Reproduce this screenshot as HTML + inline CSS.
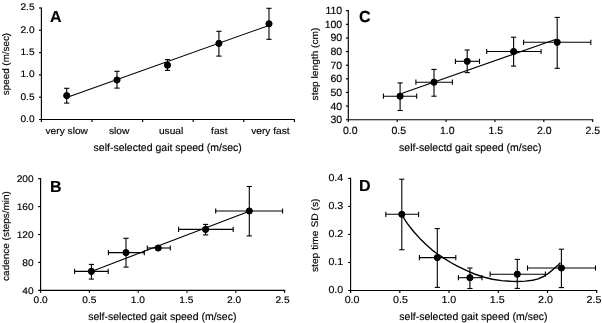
<!DOCTYPE html>
<html><head><meta charset="utf-8"><title>Figure</title>
<style>html,body{margin:0;padding:0;background:#fff;}svg{display:block}
text{font-family:"Liberation Sans", Arial, Helvetica, sans-serif;fill:#000;stroke:#000;stroke-width:0.15px;text-rendering:geometricPrecision;}</style></head>
<body><svg width="602" height="323" viewBox="0 0 602 323" stroke="#000" fill="#000">
<rect x="0" y="0" width="602" height="323" fill="#fff" stroke="none"/>
<g stroke-linecap="butt">
<line x1="41.40" y1="7.42" x2="41.40" y2="121.90" stroke-width="1.15"/>
<line x1="39.00" y1="119.50" x2="294.97" y2="119.50" stroke-width="1.15"/>
<line x1="39.00" y1="97.20" x2="41.40" y2="97.20" stroke-width="1.15"/>
<line x1="39.00" y1="74.90" x2="41.40" y2="74.90" stroke-width="1.15"/>
<line x1="39.00" y1="52.60" x2="41.40" y2="52.60" stroke-width="1.15"/>
<line x1="39.00" y1="30.30" x2="41.40" y2="30.30" stroke-width="1.15"/>
<line x1="39.00" y1="8.00" x2="41.40" y2="8.00" stroke-width="1.15"/>
<line x1="92.00" y1="119.50" x2="92.00" y2="121.90" stroke-width="1.15"/>
<line x1="142.60" y1="119.50" x2="142.60" y2="121.90" stroke-width="1.15"/>
<line x1="193.20" y1="119.50" x2="193.20" y2="121.90" stroke-width="1.15"/>
<line x1="243.80" y1="119.50" x2="243.80" y2="121.90" stroke-width="1.15"/>
<line x1="294.40" y1="119.50" x2="294.40" y2="121.90" stroke-width="1.15"/>
<text transform="translate(34.60 121.80) scale(1.07 1)" text-anchor="end" font-size="9.5">0.0</text>
<text transform="translate(34.60 99.50) scale(1.07 1)" text-anchor="end" font-size="9.5">0.5</text>
<text transform="translate(34.60 77.20) scale(1.07 1)" text-anchor="end" font-size="9.5">1.0</text>
<text transform="translate(34.60 54.90) scale(1.07 1)" text-anchor="end" font-size="9.5">1.5</text>
<text transform="translate(34.60 32.60) scale(1.07 1)" text-anchor="end" font-size="9.5">2.0</text>
<text transform="translate(34.60 10.30) scale(1.07 1)" text-anchor="end" font-size="9.5">2.5</text>
<text transform="translate(66.70 133.50) scale(1.07 1)" text-anchor="middle" font-size="9.5">very slow</text>
<text transform="translate(119.10 133.50) scale(1.07 1)" text-anchor="middle" font-size="9.5">slow</text>
<text transform="translate(171.10 133.50) scale(1.07 1)" text-anchor="middle" font-size="9.5">usual</text>
<text transform="translate(219.30 133.50) scale(1.07 1)" text-anchor="middle" font-size="9.5">fast</text>
<text transform="translate(270.40 133.50) scale(1.07 1)" text-anchor="middle" font-size="9.5">very fast</text>
<text transform="translate(167.70 150.60)" text-anchor="middle" font-size="10.5">self-selected gait speed (m/sec)</text>
<text transform="translate(9.20 64.00) rotate(-90) scale(1.035 1)" text-anchor="middle" font-size="9.5">speed (m/sec)</text>
<text transform="translate(50.00 22.00)" text-anchor="start" font-size="16" font-weight="bold">A</text>
<line x1="66.70" y1="97.60" x2="269.00" y2="25.40" stroke-width="1.1"/>
<line x1="66.70" y1="88.30" x2="66.70" y2="103.10" stroke-width="1.1"/>
<line x1="64.10" y1="88.30" x2="69.30" y2="88.30" stroke-width="1.1"/>
<line x1="64.10" y1="103.10" x2="69.30" y2="103.10" stroke-width="1.1"/>
<circle cx="66.70" cy="95.60" r="3.1"/>
<line x1="117.00" y1="71.30" x2="117.00" y2="88.10" stroke-width="1.1"/>
<line x1="114.40" y1="71.30" x2="119.60" y2="71.30" stroke-width="1.1"/>
<line x1="114.40" y1="88.10" x2="119.60" y2="88.10" stroke-width="1.1"/>
<circle cx="117.00" cy="80.00" r="3.1"/>
<line x1="167.50" y1="59.60" x2="167.50" y2="70.40" stroke-width="1.1"/>
<line x1="164.90" y1="59.60" x2="170.10" y2="59.60" stroke-width="1.1"/>
<line x1="164.90" y1="70.40" x2="170.10" y2="70.40" stroke-width="1.1"/>
<circle cx="167.50" cy="65.20" r="3.1"/>
<line x1="218.90" y1="31.30" x2="218.90" y2="56.10" stroke-width="1.1"/>
<line x1="216.30" y1="31.30" x2="221.50" y2="31.30" stroke-width="1.1"/>
<line x1="216.30" y1="56.10" x2="221.50" y2="56.10" stroke-width="1.1"/>
<circle cx="218.90" cy="43.40" r="3.1"/>
<line x1="269.00" y1="8.30" x2="269.00" y2="39.30" stroke-width="1.1"/>
<line x1="266.40" y1="8.30" x2="271.60" y2="8.30" stroke-width="1.1"/>
<line x1="266.40" y1="39.30" x2="271.60" y2="39.30" stroke-width="1.1"/>
<circle cx="269.00" cy="23.80" r="3.1"/>
<line x1="40.60" y1="178.12" x2="40.60" y2="292.70" stroke-width="1.15"/>
<line x1="38.20" y1="290.30" x2="285.18" y2="290.30" stroke-width="1.15"/>
<line x1="38.20" y1="262.40" x2="40.60" y2="262.40" stroke-width="1.15"/>
<line x1="38.20" y1="234.50" x2="40.60" y2="234.50" stroke-width="1.15"/>
<line x1="38.20" y1="206.60" x2="40.60" y2="206.60" stroke-width="1.15"/>
<line x1="38.20" y1="178.70" x2="40.60" y2="178.70" stroke-width="1.15"/>
<line x1="89.40" y1="290.30" x2="89.40" y2="292.70" stroke-width="1.15"/>
<line x1="138.20" y1="290.30" x2="138.20" y2="292.70" stroke-width="1.15"/>
<line x1="187.00" y1="290.30" x2="187.00" y2="292.70" stroke-width="1.15"/>
<line x1="235.80" y1="290.30" x2="235.80" y2="292.70" stroke-width="1.15"/>
<line x1="284.60" y1="290.30" x2="284.60" y2="292.70" stroke-width="1.15"/>
<text transform="translate(33.60 293.50) scale(1.07 1)" text-anchor="end" font-size="9.5">40</text>
<text transform="translate(33.60 265.60) scale(1.07 1)" text-anchor="end" font-size="9.5">80</text>
<text transform="translate(33.60 237.70) scale(1.07 1)" text-anchor="end" font-size="9.5">120</text>
<text transform="translate(33.60 209.80) scale(1.07 1)" text-anchor="end" font-size="9.5">160</text>
<text transform="translate(33.60 181.90) scale(1.07 1)" text-anchor="end" font-size="9.5">200</text>
<text transform="translate(40.60 303.30) scale(1.07 1)" text-anchor="middle" font-size="9.5">0.0</text>
<text transform="translate(89.40 303.30) scale(1.07 1)" text-anchor="middle" font-size="9.5">0.5</text>
<text transform="translate(137.80 303.30) scale(1.07 1)" text-anchor="middle" font-size="9.5">1.0</text>
<text transform="translate(186.30 303.30) scale(1.07 1)" text-anchor="middle" font-size="9.5">1.5</text>
<text transform="translate(234.10 303.30) scale(1.07 1)" text-anchor="middle" font-size="9.5">2.0</text>
<text transform="translate(282.50 303.30) scale(1.07 1)" text-anchor="middle" font-size="9.5">2.5</text>
<text transform="translate(162.30 320.30)" text-anchor="middle" font-size="10.5">self-selected gait speed (m/sec)</text>
<text transform="translate(9.00 236.00) rotate(-90) scale(1.05 1)" text-anchor="middle" font-size="9.5">cadence (steps/min)</text>
<text transform="translate(50.00 191.80)" text-anchor="start" font-size="16" font-weight="bold">B</text>
<line x1="91.40" y1="271.40" x2="249.30" y2="211.20" stroke-width="1.1"/>
<line x1="91.40" y1="264.40" x2="91.40" y2="279.10" stroke-width="1.1"/>
<line x1="88.80" y1="264.40" x2="94.00" y2="264.40" stroke-width="1.1"/>
<line x1="88.80" y1="279.10" x2="94.00" y2="279.10" stroke-width="1.1"/>
<line x1="74.60" y1="271.40" x2="108.20" y2="271.40" stroke-width="1.1"/>
<line x1="74.60" y1="268.80" x2="74.60" y2="274.00" stroke-width="1.1"/>
<line x1="108.20" y1="268.80" x2="108.20" y2="274.00" stroke-width="1.1"/>
<circle cx="91.40" cy="271.40" r="3.1"/>
<line x1="126.00" y1="238.30" x2="126.00" y2="267.10" stroke-width="1.1"/>
<line x1="123.40" y1="238.30" x2="128.60" y2="238.30" stroke-width="1.1"/>
<line x1="123.40" y1="267.10" x2="128.60" y2="267.10" stroke-width="1.1"/>
<line x1="108.40" y1="252.60" x2="144.30" y2="252.60" stroke-width="1.1"/>
<line x1="108.40" y1="250.00" x2="108.40" y2="255.20" stroke-width="1.1"/>
<line x1="144.30" y1="250.00" x2="144.30" y2="255.20" stroke-width="1.1"/>
<circle cx="126.00" cy="252.60" r="3.1"/>
<line x1="158.20" y1="246.50" x2="158.20" y2="249.50" stroke-width="1.1"/>
<line x1="155.60" y1="246.50" x2="160.80" y2="246.50" stroke-width="1.1"/>
<line x1="155.60" y1="249.50" x2="160.80" y2="249.50" stroke-width="1.1"/>
<line x1="147.30" y1="248.00" x2="170.30" y2="248.00" stroke-width="1.1"/>
<line x1="147.30" y1="245.40" x2="147.30" y2="250.60" stroke-width="1.1"/>
<line x1="170.30" y1="245.40" x2="170.30" y2="250.60" stroke-width="1.1"/>
<circle cx="158.20" cy="248.00" r="3.1"/>
<line x1="205.60" y1="224.40" x2="205.60" y2="234.90" stroke-width="1.1"/>
<line x1="203.00" y1="224.40" x2="208.20" y2="224.40" stroke-width="1.1"/>
<line x1="203.00" y1="234.90" x2="208.20" y2="234.90" stroke-width="1.1"/>
<line x1="178.60" y1="229.40" x2="233.20" y2="229.40" stroke-width="1.1"/>
<line x1="178.60" y1="226.80" x2="178.60" y2="232.00" stroke-width="1.1"/>
<line x1="233.20" y1="226.80" x2="233.20" y2="232.00" stroke-width="1.1"/>
<circle cx="205.60" cy="229.40" r="3.1"/>
<line x1="249.30" y1="186.50" x2="249.30" y2="235.90" stroke-width="1.1"/>
<line x1="246.70" y1="186.50" x2="251.90" y2="186.50" stroke-width="1.1"/>
<line x1="246.70" y1="235.90" x2="251.90" y2="235.90" stroke-width="1.1"/>
<line x1="215.70" y1="211.00" x2="282.60" y2="211.00" stroke-width="1.1"/>
<line x1="215.70" y1="208.40" x2="215.70" y2="213.60" stroke-width="1.1"/>
<line x1="282.60" y1="208.40" x2="282.60" y2="213.60" stroke-width="1.1"/>
<circle cx="249.30" cy="211.00" r="3.1"/>
<line x1="348.30" y1="10.12" x2="348.30" y2="122.10" stroke-width="1.15"/>
<line x1="345.90" y1="119.70" x2="593.28" y2="119.70" stroke-width="1.15"/>
<line x1="345.90" y1="106.08" x2="348.30" y2="106.08" stroke-width="1.15"/>
<line x1="345.90" y1="92.45" x2="348.30" y2="92.45" stroke-width="1.15"/>
<line x1="345.90" y1="78.83" x2="348.30" y2="78.83" stroke-width="1.15"/>
<line x1="345.90" y1="65.20" x2="348.30" y2="65.20" stroke-width="1.15"/>
<line x1="345.90" y1="51.58" x2="348.30" y2="51.58" stroke-width="1.15"/>
<line x1="345.90" y1="37.95" x2="348.30" y2="37.95" stroke-width="1.15"/>
<line x1="345.90" y1="24.33" x2="348.30" y2="24.33" stroke-width="1.15"/>
<line x1="345.90" y1="10.70" x2="348.30" y2="10.70" stroke-width="1.15"/>
<line x1="397.18" y1="119.70" x2="397.18" y2="122.10" stroke-width="1.15"/>
<line x1="446.06" y1="119.70" x2="446.06" y2="122.10" stroke-width="1.15"/>
<line x1="494.94" y1="119.70" x2="494.94" y2="122.10" stroke-width="1.15"/>
<line x1="543.82" y1="119.70" x2="543.82" y2="122.10" stroke-width="1.15"/>
<line x1="592.70" y1="119.70" x2="592.70" y2="122.10" stroke-width="1.15"/>
<text transform="translate(342.20 123.20)" text-anchor="end" font-size="10.5">30</text>
<text transform="translate(342.20 109.58)" text-anchor="end" font-size="10.5">40</text>
<text transform="translate(342.20 95.95)" text-anchor="end" font-size="10.5">50</text>
<text transform="translate(342.20 82.33)" text-anchor="end" font-size="10.5">60</text>
<text transform="translate(342.20 68.70)" text-anchor="end" font-size="10.5">70</text>
<text transform="translate(342.20 55.08)" text-anchor="end" font-size="10.5">80</text>
<text transform="translate(342.20 41.45)" text-anchor="end" font-size="10.5">90</text>
<text transform="translate(342.20 27.83)" text-anchor="end" font-size="10.5">100</text>
<text transform="translate(342.20 14.20)" text-anchor="end" font-size="10.5">110</text>
<text transform="translate(350.30 134.00)" text-anchor="middle" font-size="10.5">0.0</text>
<text transform="translate(398.78 134.00)" text-anchor="middle" font-size="10.5">0.5</text>
<text transform="translate(447.26 134.00)" text-anchor="middle" font-size="10.5">1.0</text>
<text transform="translate(495.74 134.00)" text-anchor="middle" font-size="10.5">1.5</text>
<text transform="translate(544.22 134.00)" text-anchor="middle" font-size="10.5">2.0</text>
<text transform="translate(592.70 134.00)" text-anchor="middle" font-size="10.5">2.5</text>
<text transform="translate(470.30 150.60)" text-anchor="middle" font-size="10.5">self-selectd gait speed (m/sec)</text>
<text transform="translate(318.20 64.00) rotate(-90) scale(1.07 1)" text-anchor="middle" font-size="9.5">step length (cm)</text>
<text transform="translate(359.00 22.00)" text-anchor="start" font-size="16" font-weight="bold">C</text>
<line x1="400.10" y1="93.90" x2="556.00" y2="39.30" stroke-width="1.1"/>
<line x1="400.10" y1="82.90" x2="400.10" y2="110.50" stroke-width="1.1"/>
<line x1="397.50" y1="82.90" x2="402.70" y2="82.90" stroke-width="1.1"/>
<line x1="397.50" y1="110.50" x2="402.70" y2="110.50" stroke-width="1.1"/>
<line x1="383.40" y1="96.20" x2="416.70" y2="96.20" stroke-width="1.1"/>
<line x1="383.40" y1="93.60" x2="383.40" y2="98.80" stroke-width="1.1"/>
<line x1="416.70" y1="93.60" x2="416.70" y2="98.80" stroke-width="1.1"/>
<circle cx="400.10" cy="96.20" r="3.1"/>
<line x1="434.00" y1="69.40" x2="434.00" y2="96.20" stroke-width="1.1"/>
<line x1="431.40" y1="69.40" x2="436.60" y2="69.40" stroke-width="1.1"/>
<line x1="431.40" y1="96.20" x2="436.60" y2="96.20" stroke-width="1.1"/>
<line x1="415.90" y1="82.20" x2="452.40" y2="82.20" stroke-width="1.1"/>
<line x1="415.90" y1="79.60" x2="415.90" y2="84.80" stroke-width="1.1"/>
<line x1="452.40" y1="79.60" x2="452.40" y2="84.80" stroke-width="1.1"/>
<circle cx="434.00" cy="82.20" r="3.1"/>
<line x1="467.20" y1="50.00" x2="467.20" y2="72.60" stroke-width="1.1"/>
<line x1="464.60" y1="50.00" x2="469.80" y2="50.00" stroke-width="1.1"/>
<line x1="464.60" y1="72.60" x2="469.80" y2="72.60" stroke-width="1.1"/>
<line x1="455.40" y1="61.30" x2="479.50" y2="61.30" stroke-width="1.1"/>
<line x1="455.40" y1="58.70" x2="455.40" y2="63.90" stroke-width="1.1"/>
<line x1="479.50" y1="58.70" x2="479.50" y2="63.90" stroke-width="1.1"/>
<circle cx="467.20" cy="61.30" r="3.1"/>
<line x1="513.60" y1="37.20" x2="513.60" y2="66.10" stroke-width="1.1"/>
<line x1="511.00" y1="37.20" x2="516.20" y2="37.20" stroke-width="1.1"/>
<line x1="511.00" y1="66.10" x2="516.20" y2="66.10" stroke-width="1.1"/>
<line x1="486.70" y1="51.50" x2="541.10" y2="51.50" stroke-width="1.1"/>
<line x1="486.70" y1="48.90" x2="486.70" y2="54.10" stroke-width="1.1"/>
<line x1="541.10" y1="48.90" x2="541.10" y2="54.10" stroke-width="1.1"/>
<circle cx="513.60" cy="51.50" r="3.1"/>
<line x1="557.20" y1="17.40" x2="557.20" y2="68.30" stroke-width="1.1"/>
<line x1="554.60" y1="17.40" x2="559.80" y2="17.40" stroke-width="1.1"/>
<line x1="554.60" y1="68.30" x2="559.80" y2="68.30" stroke-width="1.1"/>
<line x1="523.60" y1="42.30" x2="590.80" y2="42.30" stroke-width="1.1"/>
<line x1="523.60" y1="39.70" x2="523.60" y2="44.90" stroke-width="1.1"/>
<line x1="590.80" y1="39.70" x2="590.80" y2="44.90" stroke-width="1.1"/>
<circle cx="557.20" cy="42.30" r="3.1"/>
<line x1="350.60" y1="177.83" x2="350.60" y2="292.90" stroke-width="1.15"/>
<line x1="348.20" y1="290.50" x2="597.28" y2="290.50" stroke-width="1.15"/>
<line x1="348.20" y1="262.48" x2="350.60" y2="262.48" stroke-width="1.15"/>
<line x1="348.20" y1="234.45" x2="350.60" y2="234.45" stroke-width="1.15"/>
<line x1="348.20" y1="206.43" x2="350.60" y2="206.43" stroke-width="1.15"/>
<line x1="348.20" y1="178.40" x2="350.60" y2="178.40" stroke-width="1.15"/>
<line x1="399.82" y1="290.50" x2="399.82" y2="292.90" stroke-width="1.15"/>
<line x1="449.04" y1="290.50" x2="449.04" y2="292.90" stroke-width="1.15"/>
<line x1="498.26" y1="290.50" x2="498.26" y2="292.90" stroke-width="1.15"/>
<line x1="547.48" y1="290.50" x2="547.48" y2="292.90" stroke-width="1.15"/>
<line x1="596.70" y1="290.50" x2="596.70" y2="292.90" stroke-width="1.15"/>
<text transform="translate(343.30 293.10) scale(1.05 1)" text-anchor="end" font-size="10.2">0.0</text>
<text transform="translate(343.30 265.08) scale(1.05 1)" text-anchor="end" font-size="10.2">0.1</text>
<text transform="translate(343.30 237.05) scale(1.05 1)" text-anchor="end" font-size="10.2">0.2</text>
<text transform="translate(343.30 209.03) scale(1.05 1)" text-anchor="end" font-size="10.2">0.3</text>
<text transform="translate(343.30 181.00) scale(1.05 1)" text-anchor="end" font-size="10.2">0.4</text>
<text transform="translate(352.10 303.40) scale(1.05 1)" text-anchor="middle" font-size="10.2">0.0</text>
<text transform="translate(400.46 303.40) scale(1.05 1)" text-anchor="middle" font-size="10.2">0.5</text>
<text transform="translate(448.82 303.40) scale(1.05 1)" text-anchor="middle" font-size="10.2">1.0</text>
<text transform="translate(497.18 303.40) scale(1.05 1)" text-anchor="middle" font-size="10.2">1.5</text>
<text transform="translate(545.54 303.40) scale(1.05 1)" text-anchor="middle" font-size="10.2">2.0</text>
<text transform="translate(593.90 303.40) scale(1.05 1)" text-anchor="middle" font-size="10.2">2.5</text>
<text transform="translate(473.40 320.00)" text-anchor="middle" font-size="10.5">self-selected gait speed (m/sec)</text>
<text transform="translate(318.20 235.30) rotate(-90) scale(1.08 1)" text-anchor="middle" font-size="9.5">step time SD (s)</text>
<text transform="translate(359.00 191.40)" text-anchor="start" font-size="16" font-weight="bold">D</text>
<path d="M401.3,214.2 L407.4,223.6 L413.6,231.5 L419.8,238.4 L426.0,244.6 L432.2,250.1 L437.6,254.0 L444.5,258.7 L450.7,262.5 L456.9,265.9 L463.1,268.9 L469.6,271.9 L474.5,274.0 L483.3,277.0 L492.4,279.3 L501.5,280.6 L510.7,281.3 L517.6,281.5 L525.3,281.1 L532.6,280.2 L538.1,278.9 L543.6,276.5 L549.0,272.9 L554.5,268.3 L558.2,265.0 L560.4,262.8" fill="none" stroke-width="1.4" stroke-linejoin="round"/>
<line x1="401.80" y1="179.20" x2="401.80" y2="249.70" stroke-width="1.1"/>
<line x1="399.20" y1="179.20" x2="404.40" y2="179.20" stroke-width="1.1"/>
<line x1="399.20" y1="249.70" x2="404.40" y2="249.70" stroke-width="1.1"/>
<line x1="385.80" y1="214.30" x2="418.60" y2="214.30" stroke-width="1.1"/>
<line x1="385.80" y1="211.70" x2="385.80" y2="216.90" stroke-width="1.1"/>
<line x1="418.60" y1="211.70" x2="418.60" y2="216.90" stroke-width="1.1"/>
<circle cx="401.80" cy="214.30" r="3.1"/>
<line x1="437.30" y1="228.60" x2="437.30" y2="287.40" stroke-width="1.1"/>
<line x1="434.70" y1="228.60" x2="439.90" y2="228.60" stroke-width="1.1"/>
<line x1="434.70" y1="287.40" x2="439.90" y2="287.40" stroke-width="1.1"/>
<line x1="419.40" y1="257.60" x2="455.80" y2="257.60" stroke-width="1.1"/>
<line x1="419.40" y1="255.00" x2="419.40" y2="260.20" stroke-width="1.1"/>
<line x1="455.80" y1="255.00" x2="455.80" y2="260.20" stroke-width="1.1"/>
<circle cx="437.30" cy="257.60" r="3.1"/>
<line x1="469.90" y1="268.00" x2="469.90" y2="288.50" stroke-width="1.1"/>
<line x1="467.30" y1="268.00" x2="472.50" y2="268.00" stroke-width="1.1"/>
<line x1="467.30" y1="288.50" x2="472.50" y2="288.50" stroke-width="1.1"/>
<line x1="458.40" y1="277.70" x2="482.00" y2="277.70" stroke-width="1.1"/>
<line x1="458.40" y1="275.10" x2="458.40" y2="280.30" stroke-width="1.1"/>
<line x1="482.00" y1="275.10" x2="482.00" y2="280.30" stroke-width="1.1"/>
<circle cx="469.90" cy="277.70" r="3.1"/>
<line x1="517.30" y1="259.40" x2="517.30" y2="288.40" stroke-width="1.1"/>
<line x1="514.70" y1="259.40" x2="519.90" y2="259.40" stroke-width="1.1"/>
<line x1="514.70" y1="288.40" x2="519.90" y2="288.40" stroke-width="1.1"/>
<line x1="490.10" y1="274.20" x2="545.40" y2="274.20" stroke-width="1.1"/>
<line x1="490.10" y1="271.60" x2="490.10" y2="276.80" stroke-width="1.1"/>
<line x1="545.40" y1="271.60" x2="545.40" y2="276.80" stroke-width="1.1"/>
<circle cx="517.30" cy="274.20" r="3.1"/>
<line x1="561.40" y1="249.20" x2="561.40" y2="287.60" stroke-width="1.1"/>
<line x1="558.80" y1="249.20" x2="564.00" y2="249.20" stroke-width="1.1"/>
<line x1="558.80" y1="287.60" x2="564.00" y2="287.60" stroke-width="1.1"/>
<line x1="527.50" y1="268.00" x2="595.50" y2="268.00" stroke-width="1.1"/>
<line x1="527.50" y1="265.40" x2="527.50" y2="270.60" stroke-width="1.1"/>
<line x1="595.50" y1="265.40" x2="595.50" y2="270.60" stroke-width="1.1"/>
<circle cx="561.40" cy="268.00" r="3.1"/>
</g></svg></body></html>
